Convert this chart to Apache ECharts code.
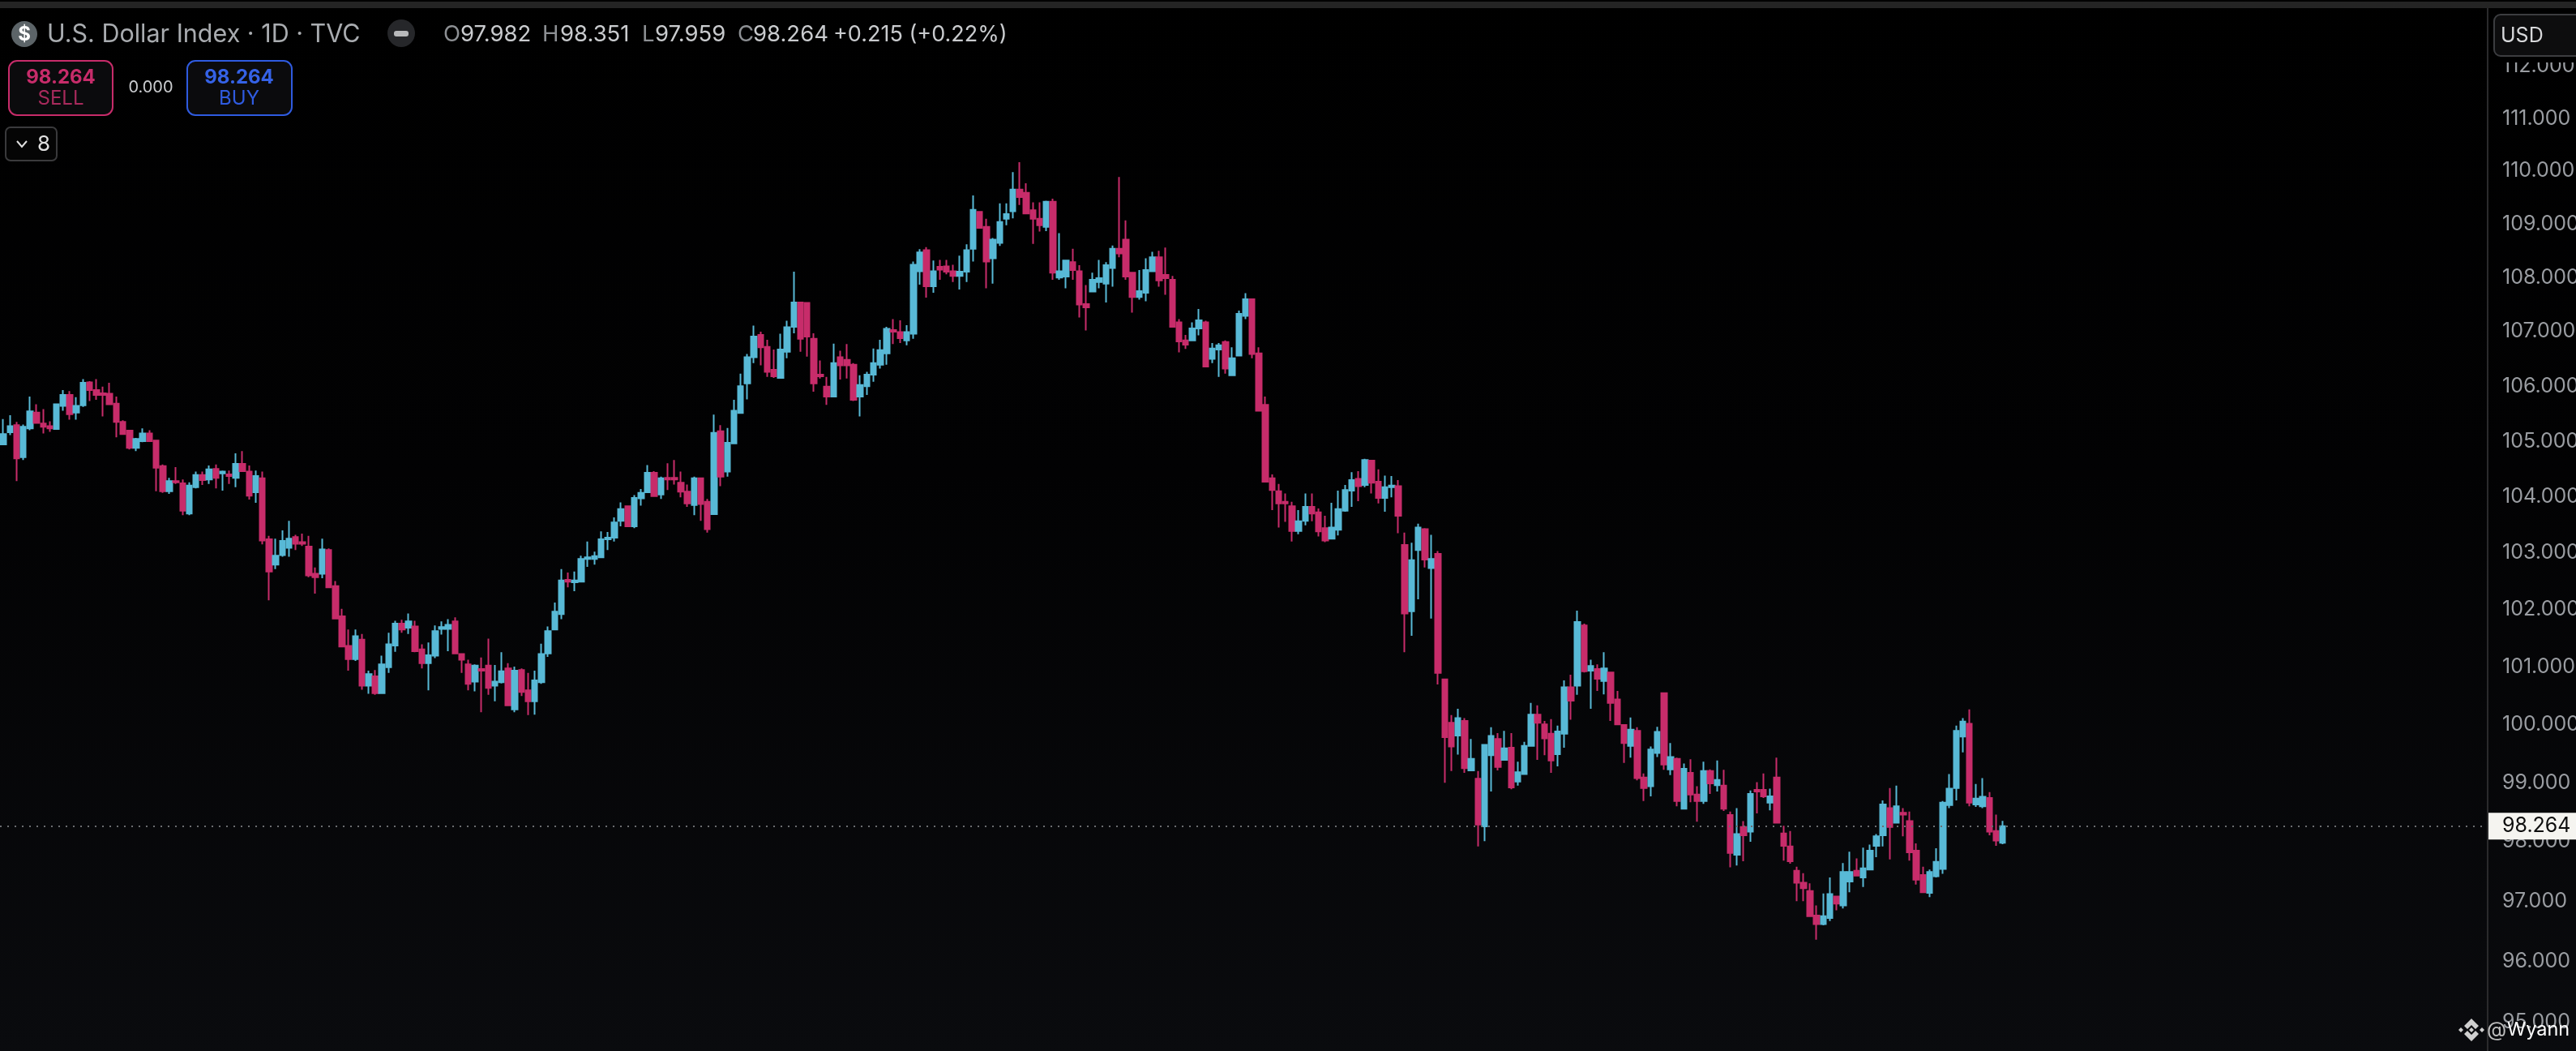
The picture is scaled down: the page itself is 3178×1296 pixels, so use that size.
<!DOCTYPE html>
<html><head><meta charset="utf-8">
<style>html,body{margin:0;padding:0;background:#000}#c{width:3178px;height:1296px}</style>
<script src="https://cdn.jsdelivr.net/npm/echarts@6/dist/echarts.min.js"></script>
</head><body><div id="c"></div>
<script>
// each row: [open, close, low, high]
const candlesAutumn=[
[104.94,105.13,104.94,105.40],[105.16,105.27,105.11,105.47],[105.29,104.69,104.28,105.35],[104.71,105.26,104.66,105.30],[105.23,105.54,105.20,105.81],[105.52,105.33,105.33,105.67],[105.32,105.26,105.14,105.58],[105.27,105.23,105.17,105.36],[105.22,105.67,105.22,105.68],[105.64,105.84,105.55,105.93],
[105.84,105.49,105.39,105.91],[105.52,105.64,105.39,105.80],[105.65,106.06,105.62,106.13],[106.07,105.93,105.73,106.09],[105.93,105.84,105.75,106.13],[105.87,105.84,105.45,105.99],[105.86,105.67,105.67,106.06],[105.68,105.35,105.07,105.81],[105.35,105.13,105.13,105.38],[105.19,104.88,104.85,105.19],
[104.88,105.04,104.82,105.06],[105.0,105.14,104.98,105.23],[105.14,105.0,105.0,105.20],[105.01,104.52,104.10,105.01],[104.55,104.10,104.07,104.58],[104.10,104.28,104.05,104.34],[104.28,104.26,104.23,104.53],[104.24,103.75,103.67,104.31],[103.70,104.20,103.67,104.26],[104.17,104.39,104.15,104.45],
[104.39,104.30,104.21,104.45],[104.31,104.49,104.23,104.56],[104.50,104.34,104.15,104.58],[104.42,104.45,104.11,104.47],[104.40,104.37,104.23,104.47],[104.34,104.59,104.17,104.78],[104.59,104.46,104.46,104.82],[104.45,104.02,103.95,104.56],[104.08,104.37,103.89,104.47],[104.33,103.22,103.15,104.45],
[103.24,102.67,102.16,103.30],[102.79,102.95,102.71,103.25],[102.96,103.21,102.93,103.40],[103.09,103.25,102.93,103.57],[103.28,103.16,103.05,103.32],[103.19,103.16,103.12,103.34],[103.11,102.60,102.57,103.30],[102.63,102.57,102.28,102.74],[102.63,103.06,102.55,103.25],[103.05,102.39,102.39,103.08],
[102.41,101.84,101.84,102.50],[101.88,101.35,101.35,102.01]];
const candlesTrough=[
[101.36,101.13,100.93,101.65],[101.13,101.53,101.10,101.65],[101.47,100.67,100.60,101.57],[100.67,100.87,100.53,100.93],[100.83,100.54,100.51,100.94],[100.54,101.04,100.54,101.19],[100.99,101.39,100.89,101.59],[101.37,101.75,101.26,101.80],[101.75,101.65,101.59,101.82],[101.68,101.79,101.57,101.93],
[101.70,101.27,101.25,101.80],[101.30,101.06,100.97,101.39],[101.06,101.20,100.59,101.42],[101.19,101.62,101.15,101.72],[101.66,101.69,101.56,101.79],[101.66,101.73,101.27,101.83],[101.79,101.23,101.23,101.86],[101.22,101.12,100.89,101.22],[101.04,100.70,100.59,101.12],[100.74,101.02,100.57,101.04],
[100.96,100.93,100.21,101.16],[101.02,100.63,100.51,101.49],[100.67,100.74,100.40,101.03],[100.73,100.92,100.71,101.25],[100.97,100.33,100.33,101.06],[100.26,100.93,100.21,101.00],[100.94,100.56,100.49,100.97],[100.59,100.40,100.16,100.89],[100.40,100.76,100.17,100.93],[100.73,101.22,100.70,101.40],
[101.23,101.62,101.17,101.70],[101.65,101.96,101.65,102.12],[101.92,102.51,101.83,102.71],[102.52,102.49,102.39,102.65],[102.48,102.51,102.32,102.67],[102.49,102.89,102.48,102.95],[102.89,102.92,102.75,103.20],[102.89,102.94,102.79,103.02],[102.92,103.24,102.92,103.38],[103.24,103.27,103.05,103.37],
[103.27,103.54,103.20,103.63],[103.57,103.78,103.47,103.90],[103.83,103.47,103.47,103.83],[103.47,103.98,103.44,104.03],[103.97,104.07,103.84,104.14],[104.08,104.43,104.08,104.57],[104.43,104.01,104.01,104.46],[104.04,104.33,103.96,104.36]];
const candlesRally=[
[104.34,104.31,104.12,104.60],[104.34,104.31,104.22,104.66],[104.25,104.09,103.99,104.45],[104.09,103.88,103.82,104.22],[103.85,104.33,103.67,104.36],[104.33,103.87,103.57,104.33],[103.91,103.42,103.36,103.96],[103.69,105.15,103.69,105.48],[105.18,104.36,104.19,105.29],[104.45,104.97,104.36,105.24],
[104.96,105.55,104.96,105.75],[105.51,106.0,105.51,106.23],[106.05,106.53,105.76,106.59],[106.53,106.91,106.42,107.11],[106.94,106.71,106.38,107.00],[106.72,106.26,106.17,106.85],[106.30,106.18,106.15,106.67],[106.15,106.67,106.15,106.96],[106.63,107.08,106.51,107.20],[107.09,107.54,106.97,108.11],
[107.54,106.87,106.63,107.54],[107.53,106.91,106.54,107.54],[106.87,106.05,105.90,106.97],[106.21,106.18,106.14,106.47],[105.99,105.81,105.66,106.17],[105.81,106.42,105.81,106.78],[106.53,106.38,106.12,106.65],[106.48,106.38,106.14,106.77],[106.39,105.75,105.73,106.42],[105.81,106.02,105.45,106.20],
[106.0,106.21,105.84,106.26],[106.21,106.42,106.08,106.69],[106.39,106.66,106.32,106.85],[106.60,107.05,106.39,107.09],[107.03,107.0,106.77,107.23],[106.99,106.88,106.79,107.21],[106.84,106.99,106.75,107.12],[106.96,108.24,106.87,108.30],[108.12,108.47,107.87,108.53],[108.51,107.84,107.63,108.57],
[107.84,108.12,107.72,108.32],[108.20,108.15,107.96,108.33],[108.21,108.11,108.06,108.33],[108.12,108.03,107.92,108.24],[108.03,108.11,107.78,108.41],[108.11,108.51,107.92,108.62],[108.54,109.27,108.30,109.54],[109.23,108.93,108.93,109.24],[108.95,108.30,107.80,109.10]];
const candlesPeak=[
[108.36,108.71,107.89,108.74],[108.65,109.04,108.59,109.39],[109.10,109.19,108.98,109.39],[109.24,109.65,109.11,109.98],[109.65,109.51,109.36,110.17],[109.59,109.20,109.20,109.77],[109.26,109.10,108.63,109.41],[109.10,108.98,108.86,109.41],[108.95,109.42,108.87,109.44],[109.42,108.09,107.96,109.48],
[108.0,108.12,107.96,108.83],[108.02,108.32,107.80,108.32],[108.29,108.14,107.96,108.54],[108.12,107.50,107.26,108.23],[107.51,107.45,107.02,107.86],[107.74,107.96,107.74,108.09],[107.92,107.99,107.80,108.33],[107.89,108.23,107.54,108.29],[108.18,108.54,107.83,108.60],[108.54,108.45,108.38,109.89],
[108.71,108.02,107.96,109.07],[108.09,107.64,107.35,108.09],[107.64,107.75,107.59,108.14],[107.72,108.14,107.56,108.36],[108.12,108.38,108.12,108.48],[108.38,107.95,107.83,108.50],[108.05,107.99,107.68,108.56],[107.96,107.09,107.08,108.03],[107.17,106.82,106.62,107.23],[106.84,106.76,106.68,106.94],
[106.84,107.06,106.84,107.17],[107.06,107.21,106.93,107.42],[107.17,106.36,106.36,107.20],[106.50,106.69,106.42,106.79],[106.67,106.75,106.17,106.79],[106.81,106.32,106.23,106.84],[106.20,106.51,106.20,106.71],[106.56,107.33,106.56,107.39],[107.29,107.60,107.23,107.71],[107.60,106.59,106.51,107.60],
[106.60,105.55,105.55,106.71],[105.66,104.27,104.27,105.81],[104.33,104.12,103.76,104.40],[104.10,103.88,103.45,104.23],[103.91,103.88,103.55,104.06],[103.83,103.39,103.20,103.91]];
const candlesSlide=[
[103.39,103.56,103.33,103.76],[103.57,103.82,103.49,104.06],[103.82,103.70,103.56,104.06],[103.72,103.38,103.29,103.79],[103.44,103.22,103.19,103.66],[103.25,103.45,103.25,103.89],[103.41,103.78,103.31,104.11],[103.75,104.12,103.73,104.21],[104.11,104.30,103.82,104.44],[104.32,104.19,103.92,104.46],
[104.21,104.66,104.17,104.68],[104.65,104.25,104.06,104.65],[104.27,103.98,103.88,104.49],[103.98,104.17,103.73,104.38],[104.17,104.20,103.99,104.37],[104.19,103.66,103.35,104.30],[103.14,101.93,101.25,103.36],[101.97,102.87,101.54,103.18],[103.05,103.45,102.18,103.52],[103.42,102.88,102.74,103.44],
[102.73,102.89,101.84,103.32],[102.98,100.89,100.69,103.03],[100.78,99.78,99.00,100.78],[100.03,99.62,99.20,100.16],[99.81,100.11,99.48,100.27],[100.06,99.25,99.17,100.11],[99.21,99.41,99.21,99.75],[99.07,98.29,97.92,99.20],[98.26,99.65,98.01,99.65],[99.47,99.80,98.85,99.95],
[99.75,99.27,99.21,99.85],[99.39,99.59,99.39,99.89],[99.60,98.92,98.89,99.85],[99.02,99.18,98.95,99.36],[99.15,99.63,99.14,99.70],[99.63,100.17,99.62,100.37],[100.17,100.03,99.39,100.33],[100.0,99.76,99.47,100.06],[99.84,99.38,99.17,100.09],[99.49,99.88,99.28,99.98],
[99.84,100.64,99.60,100.76],[100.64,100.41,100.08,100.86],[100.67,101.78,100.51,101.98],[101.72,100.92,100.90,101.75],[100.93,101.01,100.27,101.12],[100.96,100.79,100.58,101.04],[100.75,100.97,100.52,101.25],[100.90,100.37,100.06,100.90],[100.43,100.0,100.0,100.58],[99.99,99.68,99.34,100.0],
[99.63,99.91,99.43,100.12],[99.89,99.08,99.04,99.95]];
const candlesRecent=[
[99.09,98.91,98.69,99.16],[98.94,99.57,98.77,99.62],[99.51,99.87,99.44,99.96],[100.54,99.31,99.22,100.54],[99.23,99.44,99.13,99.68],[99.41,98.69,98.60,99.43],[98.56,99.24,98.56,99.33],[99.17,98.80,98.67,99.40],[98.80,98.69,98.34,98.94],[98.69,99.20,98.64,99.36],
[99.20,98.99,98.81,99.23],[98.96,99.05,98.85,99.38],[98.95,98.56,98.52,99.22],[98.45,97.81,97.57,98.51],[97.78,98.13,97.60,98.57],[98.25,98.11,97.67,98.35],[98.17,98.81,98.0,98.87],[98.88,98.85,98.48,99.01],[98.88,98.77,98.74,99.16],[98.66,98.77,98.53,98.90],
[99.09,98.32,98.32,99.43],[98.14,97.93,97.68,98.27],[97.92,97.67,97.63,98.18],[97.51,97.31,97.0,97.58],[97.31,97.22,97.0,97.47],[97.17,96.75,96.75,97.30],[96.76,96.62,96.36,96.93],[96.62,96.75,96.60,97.13],[96.72,97.12,96.67,97.40],[97.08,96.96,96.85,97.09],
[96.93,97.49,96.88,97.64],[97.33,97.49,97.15,97.83],[97.51,97.43,97.43,97.72],[97.40,97.55,97.24,97.90],[97.53,97.85,97.53,97.95],[97.93,98.09,97.74,98.13],[98.11,98.63,97.92,98.70],[98.57,98.25,97.70,98.91],[98.32,98.60,98.32,98.95],[98.49,98.46,98.09,98.57],
[98.35,97.82,97.68,98.51],[97.85,97.36,97.28,97.97],[97.44,97.15,97.15,97.58],[97.14,97.49,97.07,97.53],[97.42,97.66,97.40,97.89],[97.54,98.66,97.46,98.69],[98.62,98.90,98.57,99.15],[98.91,99.89,98.70,99.98],[99.79,100.05,99.52,100.11],[100.01,98.66,98.60,100.26],
[98.63,98.73,98.59,98.98],[98.60,98.76,98.57,99.08],[98.74,98.17,98.11,98.84],[98.18,98.02,97.93,98.46],[97.982,98.264,97.959,98.351]];
const tickValues=[95,96,97,98,99,100,101,102,103,104,105,106,107,108,109,110,111,112];
const lastPrice=98.264;
const emptySlots=73;

const candles=[...candlesAutumn,...candlesTrough,...candlesRally,...candlesPeak,...candlesSlide,...candlesRecent];
const categories=[];
for(let i=0;i<candles.length+emptySlots;i++)categories.push('D'+i);
const UP='#58b9d6',DOWN='#c72c6a',SANS='Inter, "Noto Sans", sans-serif';
const tx=(x,y,text,fill,size,extra)=>({type:'text',x,y,z:50,style:Object.assign({text,fill,font:`${size}px ${SANS}`,textVerticalAlign:'middle'},extra||{})});
const box=(x,y,w,h,r,stroke,fill)=>({type:'rect',z:49,shape:{x,y,width:w,height:h,r},style:{fill:fill||'#0b0b0d',stroke,lineWidth:2}});
const chart=echarts.init(document.getElementById('c'),null,{renderer:'canvas'});
chart.setOption({
  animation:false,
  backgroundColor:{type:'linear',x:0,y:0,x2:0,y2:1,colorStops:[{offset:0,color:'#000000'},{offset:0.45,color:'#020203'},{offset:1,color:'#0a0b0e'}]},
  grid:{left:-4.3,right:105,top:0,bottom:0},
  xAxis:{type:'category',data:categories,boundaryGap:true,axisLine:{show:false},axisTick:{show:false},axisLabel:{show:false},splitLine:{show:false}},
  yAxis:{type:'log',logBase:10,min:94.53,max:113.29,axisLine:{show:false},axisTick:{show:false},axisLabel:{show:false},splitLine:{show:false},minorSplitLine:{show:false}},
  series:[{
    type:'candlestick',data:candles,barWidth:7,clip:false,
    itemStyle:{color:UP,color0:DOWN,borderColor:UP,borderColor0:DOWN,borderWidth:2},
    markLine:{silent:true,symbol:'none',animation:false,precision:3,
      data:tickValues.map(v=>({yAxis:v,
        lineStyle:{color:'rgba(0,0,0,0)',width:1},
        label:{show:true,position:'end',distance:14,color:'#9a9da2',fontFamily:SANS,fontSize:25,formatter:p=>Number(p.value).toFixed(3)}}))
      .concat([{yAxis:lastPrice,
        lineStyle:{color:'#6b6d70',type:[2,7],width:2},
        label:{show:true,position:'end',distance:-3,color:'#0d0d0d',fontFamily:SANS,fontSize:25,backgroundColor:'#f5f4f0',padding:[4,40,4,17],formatter:p=>Number(p.value).toFixed(3)}}])
    }
  }],
  graphic:[
    {type:'rect',z:40,shape:{x:3070,y:0,width:108,height:77},style:{fill:'#000'}},
    {type:'rect',z:41,shape:{x:0,y:2,width:3178,height:8},style:{fill:'#242424'}},
    {type:'rect',z:41,shape:{x:3068,y:10,width:2,height:1286},style:{fill:'#2a2a2c'}},
    box(3077,18,120,51,8,'#3c3d40','#0d0d0e'),
    tx(3085,44,'USD','#d7d8da',25),
    {type:'circle',z:49,shape:{cx:30,cy:42,r:16},style:{fill:'#5c6468'}},
    tx(30,43,'$','#ffffff',24,{textAlign:'center',font:`bold 24px ${SANS}`}),
    tx(58,43,'U.S. Dollar Index · 1D · TVC','#a9acb0',30.5),
    {type:'circle',z:49,shape:{cx:495,cy:41,r:17},style:{fill:'#26272a'}},
    {type:'rect',z:50,shape:{x:486,y:38,width:18,height:7,r:3},style:{fill:'#b8b9bb'}},
    tx(547,43,'O','#8d9094',27.5),tx(568,43,'97.982','#c9cbce',27.5),
    tx(669,43,'H','#8d9094',27.5),tx(691,43,'98.351','#c9cbce',27.5),
    tx(792,43,'L','#8d9094',27.5),tx(808,43,'97.959','#c9cbce',27.5),
    tx(910,43,'C','#8d9094',27.5),tx(929,43,'98.264','#c9cbce',27.5),
    tx(1028,43,'+0.215 (+0.22%)','#c9cbce',27),
    box(11,75,128,67,10,DOWN),
    tx(75,96,'98.264',DOWN,24,{textAlign:'center',font:`bold 24px ${SANS}`}),
    tx(75,122,'SELL','#a82a5c',24,{textAlign:'center'}),
    tx(186,108,'0.000','#c9cbce',20,{textAlign:'center'}),
    box(231,75,129,67,10,'#2f5be0'),
    tx(295,96,'98.264','#3562e6',24,{textAlign:'center',font:`bold 24px ${SANS}`}),
    tx(295,122,'BUY','#2f5be0',24,{textAlign:'center'}),
    box(7,157,63,41,6,'#3a3a3c','#050505'),
    {type:'polyline',z:50,shape:{points:[[21,174],[27,181],[33,174]]},style:{stroke:'#e0e0e0',lineWidth:2,fill:null}},
    tx(46,178,'8','#e0e0e0',26),
    {type:'polygon',z:60,shape:{points:[[3049,1256],[3058,1265],[3054,1269],[3049,1264],[3044,1269],[3040,1265]]},style:{fill:'#cfcfcf'}},
    {type:'polygon',z:60,shape:{points:[[3049,1284],[3058,1275],[3054,1271],[3049,1276],[3044,1271],[3040,1275]]},style:{fill:'#cfcfcf'}},
    {type:'polygon',z:60,shape:{points:[[3049,1267],[3052,1270],[3049,1273],[3046,1270]]},style:{fill:'#cfcfcf'}},
    {type:'polygon',z:60,shape:{points:[[3036,1267],[3039,1270],[3036,1273],[3033,1270]]},style:{fill:'#cfcfcf'}},
    {type:'polygon',z:60,shape:{points:[[3062,1267],[3065,1270],[3062,1273],[3059,1270]]},style:{fill:'#cfcfcf'}},
    tx(3068,1270,'@','#bdbdbd',25),
    tx(3093,1270,'Wyann','#ffffff',23.5)
  ]
});
</script></body></html>
